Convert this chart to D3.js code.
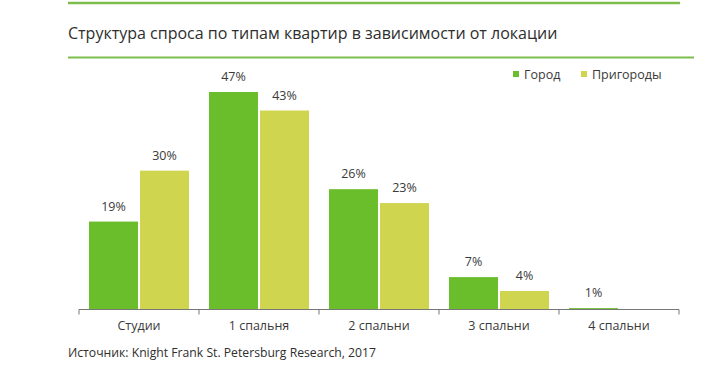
<!DOCTYPE html>
<html>
<head>
<meta charset="utf-8">
<script src="https://cdn.jsdelivr.net/npm/d3@7"></script>
<style>
  body { margin: 0; background: #fff; }
  text { font-family: "Open Sans", "Noto Sans", sans-serif; fill: #3a3a3a; }
</style>
</head>
<body>
<script>
// data
let categories = ["Студии", "1 спальня", "2 спальни", "3 спальни", "4 спальни"];
let seriesNames = ["Город", "Пригороды"];
let gorod = [19, 47, 26, 7, 0.3];
let prigorody = [30, 43, 23, 4, 0];
let gorodLabels = ["19%", "47%", "26%", "7%", "1%"];
let prigorodyLabels = ["30%", "43%", "23%", "4%", ""];
let colors = ["#6abd2b", "#cfd54e"];

let w = 720;
let h = 381;
let base = 309.5;

let svg = d3.select("body").append("svg").attr("width", w).attr("height", h);

// decorative rules
svg.append("line").attr("x1", 68).attr("x2", 680).attr("y1", 3).attr("y2", 3)
  .style("stroke", "#7cbd4c").style("stroke-width", 2.5);
svg.append("line").attr("x1", 68).attr("x2", 694).attr("y1", 57.5).attr("y2", 57.5)
  .style("stroke", "#7cbd4c").style("stroke-width", 2);

svg.append("text").attr("x", 68).attr("y", 39)
  .style("font-size", "16px").style("fill", "#2e2e2e")
  .text("Структура спроса по типам квартир в зависимости от локации");

// scales
let xScale = d3.scaleBand().domain(categories).range([79, 679]);
let xInner = d3.scaleBand().domain(seriesNames).range([10, 110]).paddingInner(0.04);
let yScale = d3.scaleLinear().domain([0, 47]).range([base, 92]);

let rows = categories.map((c, i) => ({
  cat: c,
  vals: [
    { s: seriesNames[0], v: gorod[i], lab: gorodLabels[i] },
    { s: seriesNames[1], v: prigorody[i], lab: prigorodyLabels[i] }
  ]
}));

let groups = svg.selectAll(".grp")
  .data(rows)
  .enter()
  .append("g")
  .classed("grp", true)
  .attr("transform", (d) => `translate(${xScale(d.cat)},0)`);

groups.selectAll("rect")
  .data((d) => d.vals)
  .enter()
  .append("rect")
  .attr("x", (d) => xInner(d.s))
  .attr("width", xInner.bandwidth())
  .attr("y", (d) => yScale(d.v))
  .attr("height", (d) => base - yScale(d.v))
  .style("fill", (d, i) => colors[i]);

groups.selectAll(".lab")
  .data((d) => d.vals)
  .enter()
  .append("text")
  .classed("lab", true)
  .attr("x", (d) => xInner(d.s) + xInner.bandwidth() / 2)
  .attr("y", (d) => yScale(d.v) - 11)
  .attr("text-anchor", "middle")
  .style("font-size", "12.5px")
  .text((d) => d.lab);

// x axis
let xAxis = d3.axisBottom(xScale).tickSize(0).tickPadding(12);
let xAxisGroup = svg.append("g")
  .attr("transform", `translate(0, ${base})`)
  .call(xAxis);
xAxisGroup.select(".domain").remove();
xAxisGroup.selectAll("text").style("font-size", "12.5px").style("fill", "#3a3a3a")
  .style("font-family", "\"Open Sans\", sans-serif");

xAxisGroup.append("line").attr("x1", 79).attr("x2", 679).attr("y1", 0).attr("y2", 0)
  .style("stroke", "#777").style("stroke-width", 1);
xAxisGroup.selectAll(".sep")
  .data(d3.range(categories.length + 1))
  .enter()
  .append("line")
  .classed("sep", true)
  .attr("x1", (i) => 79 + i * xScale.step())
  .attr("x2", (i) => 79 + i * xScale.step())
  .attr("y1", 0).attr("y2", 5)
  .style("stroke", "#777");

// legend
let legend = svg.append("g").attr("transform", "translate(513, 74)");
let lg = legend.selectAll("g")
  .data(seriesNames)
  .enter()
  .append("g")
  .attr("transform", (d, i) => `translate(${i * 68},0)`);
lg.append("rect").attr("x", 0).attr("y", -3).attr("width", 6).attr("height", 6)
  .style("fill", (d, i) => colors[i]);
lg.append("text").attr("x", 11).attr("y", 4.5).style("font-size", "12.5px").text((d) => d);

svg.append("text").attr("x", 68).attr("y", 357)
  .style("font-size", "12.2px").style("fill", "#2e2e2e")
  .text("Источник: Knight Frank St. Petersburg Research, 2017");
</script>
</body>
</html>
